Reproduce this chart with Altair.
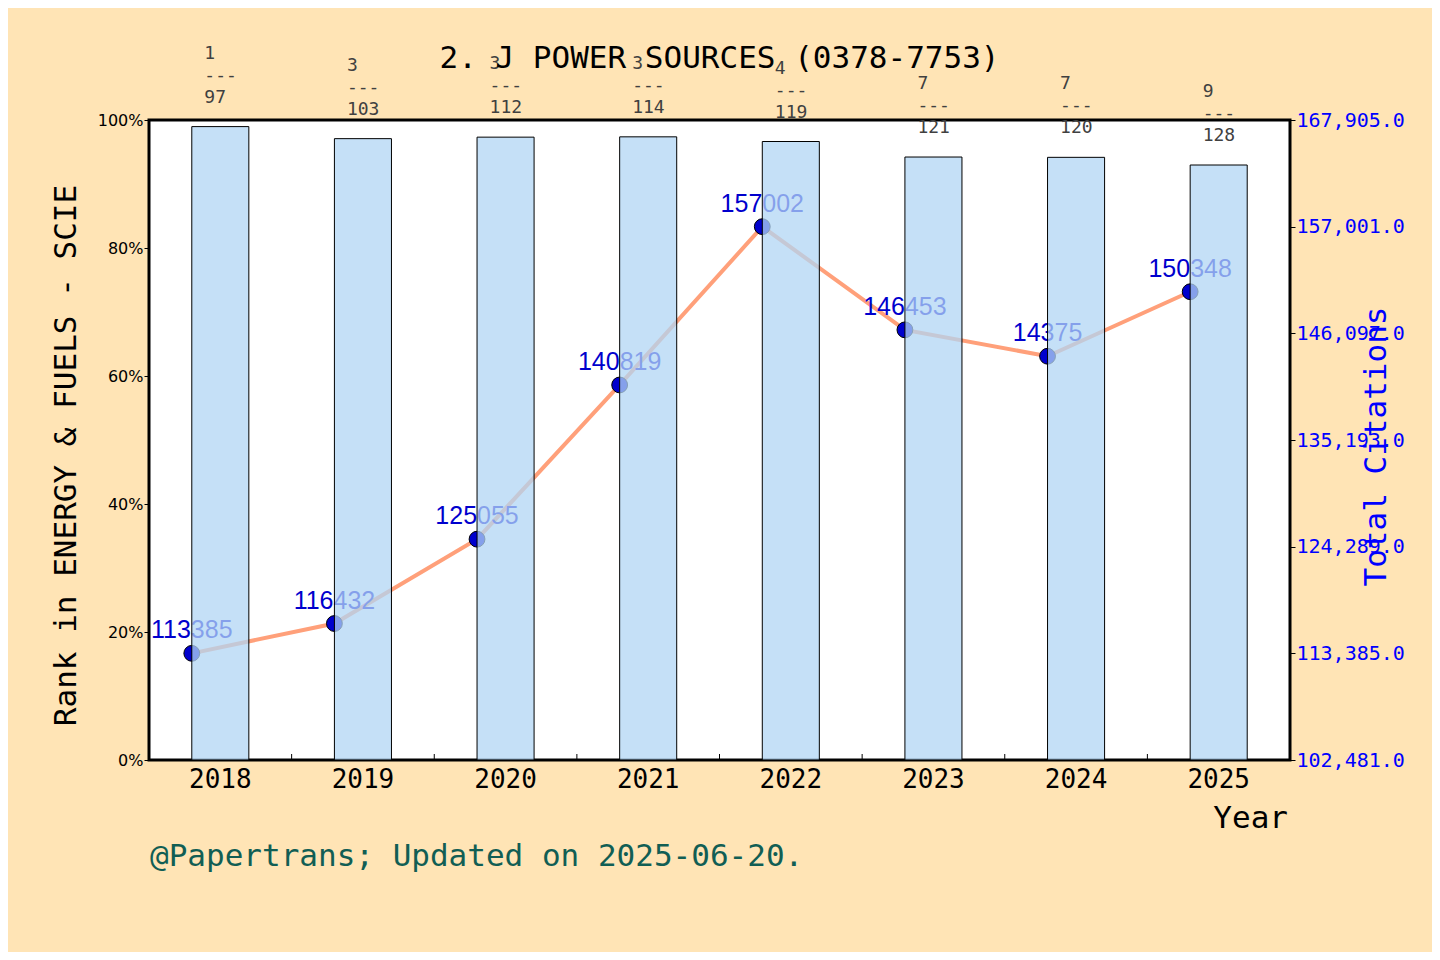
import altair as alt
import pandas as pd

# ---- data ----
years = [2018, 2019, 2020, 2021, 2022, 2023, 2024, 2025]
ranks = [1, 3, 3, 3, 4, 7, 7, 9]
totals = [97, 103, 112, 114, 119, 121, 120, 128]
citations = [113385, 116432, 125055, 140819, 157002, 146453, 143755, 150348]
citation_labels = ["113385", "116432", "125055", "140819", "157002", "146453", "14375", "150348"]
cite_ticks = [102481, 113385, 124289, 135193, 146097, 157001, 167905]
pct_ticks = [0, 0.2, 0.4, 0.6, 0.8, 1.0]
title_text = "2. J POWER SOURCES (0378-7753)"
footer_text = "@Papertrans; Updated on 2025-06-20."
y_left_title = "Rank in ENERGY & FUELS - SCIE"
y_right_title = "Total Citations"
x_title = "Year"

# ---- tables ----
n = len(years)
df = pd.DataFrame({
    "year": years,
    "rank": ranks,
    "total": totals,
    "cites": citations,
    "clabel": citation_labels,
})
df["pct"] = 1 - df["rank"] / df["total"]
df["zero"] = 0.0
df["year_end"] = df["year"] + 0.4
df["year_mid"] = df["year"] + 0.2
df["ylabel"] = df["year"].astype(str)
df["rlabel"] = df["rank"].astype(str) + "\n---\n" + df["total"].astype(str)

tick_df = pd.DataFrame({"tx": [y + 0.7 for y in years[:-1]]})
foot_df = pd.DataFrame({"t": [footer_text]})
xtitle_df = pd.DataFrame({"t": [x_title]})

W, H = 1141, 640
MONO = "DejaVu Sans Mono"

xscale = alt.Scale(domain=[years[0] - 0.3, years[-1] + 0.7], nice=False, zero=False)
cscale = alt.Scale(domain=[cite_ticks[0], cite_ticks[-1]], nice=False, zero=False)
pscale = alt.Scale(domain=[0, 1], nice=False)

right_axis = alt.Axis(
    orient="right", values=cite_ticks, format=",.1f", tickSize=5, tickColor="black",
    domain=False, grid=False, labelFont=MONO, labelFontSize=20, labelColor="#0000FF",
    labelPadding=1, labelFlush=False,
    title=y_right_title, titleFont=MONO, titleFontSize=31, titleFontWeight="normal",
    titleColor="#0000FF", titleAngle=270, titleX=86, titleY=326,
    titleAlign="center", titleBaseline="middle",
)

left_axis = alt.Axis(
    orient="left", values=pct_ticks, format=".0%", tickSize=5, tickColor="black",
    domain=False, grid=False, labelFont="DejaVu Sans", labelFontSize=16,
    labelColor="black", labelPadding=1, labelFlush=False,
    title=y_left_title, titleFont=MONO, titleFontSize=31, titleFontWeight="normal",
    titleColor="black", titleAngle=270, titleX=-83, titleY=335,
    titleAlign="center", titleBaseline="middle",
)

base = alt.Chart(df)

line = base.mark_line(color="#FFA07A", strokeWidth=4).encode(
    x=alt.X("year:Q", scale=xscale, axis=None),
    y=alt.Y("cites:Q", scale=cscale, axis=right_axis),
)
points = base.mark_circle(size=250, color="#0000CD", opacity=1, stroke="black", strokeWidth=1).encode(
    x=alt.X("year:Q", scale=xscale, axis=None),
    y=alt.Y("cites:Q", scale=cscale, axis=None),
)
plabels = base.mark_text(font="Liberation Sans", fontSize=25, color="#0000CD",
                         dy=-15, baseline="alphabetic", align="center").encode(
    x=alt.X("year:Q", scale=xscale, axis=None),
    y=alt.Y("cites:Q", scale=cscale, axis=None),
    text="clabel:N",
)
bars = base.mark_bar(color="#B2D6F4", fillOpacity=0.75, stroke="black", strokeWidth=1).encode(
    x=alt.X("year:Q", scale=xscale, axis=None),
    x2="year_end:Q",
    y=alt.Y("pct:Q", scale=pscale, axis=left_axis),
    y2="zero:Q",
)
rlabels = base.mark_text(lineBreak="\n", align="left", baseline="middle", dx=-16, dy=-73,
                         font=MONO, fontSize=18, lineHeight=22, color="#404040").encode(
    x=alt.X("year_mid:Q", scale=xscale, axis=None),
    y=alt.Y("pct:Q", scale=pscale, axis=None),
    text="rlabel:N",
)
# year tick labels under each bar
xlabels = base.mark_text(font=MONO, fontSize=26, color="black", align="center",
                         baseline="alphabetic").encode(
    x=alt.X("year_mid:Q", scale=xscale, axis=None),
    y=alt.value(H + 28),
    text="ylabel:N",
)
ticks = alt.Chart(tick_df).mark_rule(color="black", strokeWidth=1).encode(
    x=alt.X("tx:Q", scale=xscale, axis=None),
    y=alt.value(H),
    y2=alt.value(H - 6),
)
xtitle = alt.Chart(xtitle_df).mark_text(font=MONO, fontSize=31, color="black",
                                        align="right", baseline="alphabetic").encode(
    x=alt.value(W - 2), y=alt.value(H + 68), text="t:N",
)
footer = alt.Chart(foot_df).mark_text(font=MONO, fontSize=31, color="#115E54",
                                      align="left", baseline="alphabetic").encode(
    x=alt.value(1), y=alt.value(746), text="t:N",
)

chart = alt.layer(line, points, plabels, bars, rlabels, xlabels, ticks, xtitle, footer).resolve_scale(
    y="independent"
).properties(
    width=W, height=H,
    title=alt.TitleParams(title_text, font=MONO, fontSize=31, fontWeight="normal",
                          color="black", anchor="middle", frame="group", offset=0, dy=30),
    background="#FFE4B5",
    autosize=alt.AutoSizeParams(type="none"),
    padding={"left": 141, "top": 112, "right": 142, "bottom": 192},
).configure_view(stroke="black", strokeWidth=3, fill="white")

chart.save("out.html", embed_options={"renderer": "svg", "actions": False})
